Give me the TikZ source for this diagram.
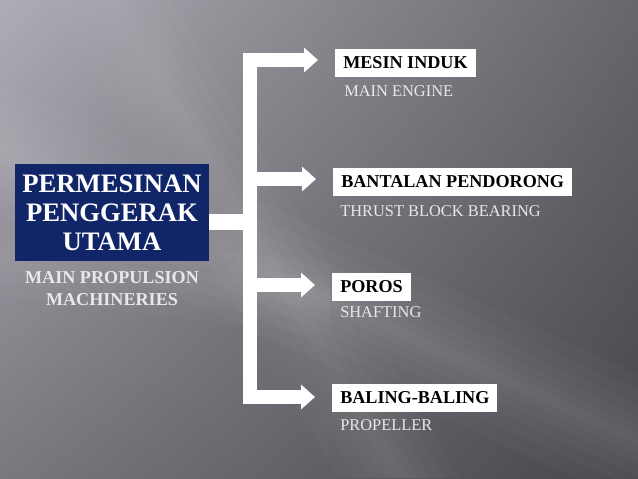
\documentclass[tikz,border=0pt]{standalone}
\usepackage{fontspec}
\setmainfont{Liberation Serif}
\usepackage{tikz}
\usetikzlibrary{arrows.meta, calc, shadings}
\definecolor{navybox}{RGB}{17,38,104}
\definecolor{lighttxt}{RGB}{232,231,235}
\definecolor{bgul}{RGB}{174,172,180}
\definecolor{bgur}{RGB}{104,101,108}
\definecolor{bgll}{RGB}{122,120,127}
\definecolor{bglr}{RGB}{72,69,75}

\begin{document}
\begin{tikzpicture}[x=0.75pt, y=-0.75pt,
	mainbox/.style={fill=navybox, text=white, font=\fontsize{20}{21.75}\selectfont\bfseries, align=center, minimum width=145.5pt, minimum height=72.75pt, inner sep=0pt},
	mainsub/.style={text=lighttxt, font=\fontsize{13.6}{16.5}\selectfont\bfseries, align=center, inner sep=0pt},
	lblbox/.style={fill=white, text=black, font=\fontsize{13.6}{16}\selectfont\bfseries, inner xsep=6pt, minimum height=21pt, anchor=west},
	subtxt/.style={text=lighttxt, font=\fontsize{12.3}{15}\selectfont, anchor=west, inner sep=0pt},
	link/.style={white, line width=10.5pt},
	arm/.style={white, line width=10.5pt, -{Triangle[length=10.5pt, width=18pt]}}
	]
		\useasboundingbox (0,0) rectangle (638,478);
		\begin{scope}
			\clip (0,0) rectangle (638,478);
			\shade[upper left=bgul, upper right=bgur, lower left=bgll, lower right=bglr] (0,0) rectangle (638,478);
			\foreach \w in {6,14,24,36,50,66}
				\fill[white, opacity=0.025] (0,150-\w) -- (638,440-\w) -- (638,440+\w) -- (0,150+\w) -- cycle;
			\foreach \w in {8,18,30,44,60}
				\fill[white, opacity=0.02] (110-\w,0) -- (110+\w,0) -- (400+\w,478) -- (400-\w,478) -- cycle;
			\foreach \w in {10,22,36}
				\fill[white, opacity=0.02] (0,260-\w) -- (330,300-\w) -- (330,300+\w) -- (0,260+\w) -- cycle;
		\end{scope}

		\node[mainbox] (main) at (112,212.5) {PERMESINAN\\PENGGERAK\\UTAMA};
		\node[mainsub] (mainsub) at (112,289) {MAIN PROPULSION\\MACHINERIES};

		\node[lblbox] (induk) at (335,63) {MESIN INDUK};
		\node[lblbox] (bantalan) at (333,182) {BANTALAN PENDORONG};
		\node[lblbox] (poros) at (332,287) {POROS};
		\node[lblbox] (baling) at (332,397.5) {BALING-BALING};

		\node[subtxt] (engine) at (344,91) {MAIN ENGINE};
		\node[subtxt] (thrust) at (340,211) {THRUST BLOCK BEARING};
		\node[subtxt] (shafting) at (340,312) {SHAFTING};
		\node[subtxt] (propeller) at (340,425) {PROPELLER};

		\coordinate (hub) at ($(main.east)+(0,9.5)$);
		\coordinate (bartop) at (250,60);
		\coordinate (barbot) at (250,397);
		\draw[link, line width=12pt] (hub) -- (hub -| bartop);
		\draw[link, line cap=rect] (bartop) -- (barbot);
		\foreach \n/\dy in {induk/-3, bantalan/-3, poros/-2, baling/-0.5}
			\draw[arm] ($(bartop |- \n.west)+(-7,\dy)$) -- ($(\n.west)+(-17,\dy)$);
	\end{tikzpicture}
\end{document}
